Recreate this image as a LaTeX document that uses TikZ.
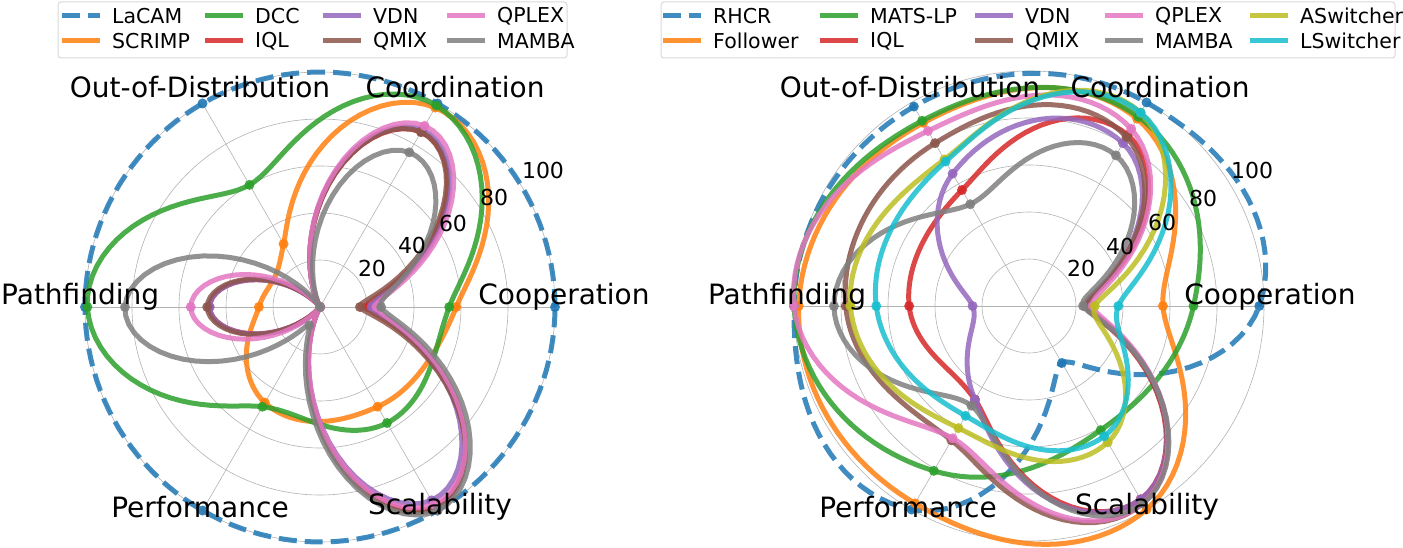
\documentclass[tikz,border=0pt]{standalone}
\usepackage{fontspec}
\setmainfont{DejaVu Sans}
\definecolor{tblue}{HTML}{1F77B4}
\definecolor{torange}{HTML}{FF7F0E}
\definecolor{tgreen}{HTML}{2CA02C}
\definecolor{tred}{HTML}{D62728}
\definecolor{tpurple}{HTML}{9467BD}
\definecolor{tbrown}{HTML}{8C564B}
\definecolor{tpink}{HTML}{E377C2}
\definecolor{tgray}{HTML}{7F7F7F}
\definecolor{tolive}{HTML}{BCBD22}
\definecolor{tcyan}{HTML}{17BECF}
\def\sc{2.35}
\newcommand\seg[5]{-- plot[domain=0:1,samples=24,variable=\t] ({#1+60*\t}:{\sc*max(0,0.5*(2*(#3)+(-(#2)+(#4))*\t+(2*(#2)-5*(#3)+4*(#4)-(#5))*\t*\t+(-(#2)+3*(#3)-3*(#4)+(#5))*\t*\t*\t))})}
\newcommand\radar[8]{%
 \draw[curve,draw=#1,#2] ({0}:{\sc*#3}) \seg{0}{#8}{#3}{#4}{#5} \seg{60}{#3}{#4}{#5}{#6} \seg{120}{#4}{#5}{#6}{#7} \seg{180}{#5}{#6}{#7}{#8} \seg{240}{#6}{#7}{#8}{#3} \seg{300}{#7}{#8}{#3}{#4} -- cycle;
 \foreach \a/\v in {0/#3,60/#4,120/#5,180/#6,240/#7,300/#8} \fill[#1,opacity=0.9] ({\a}:{\sc*\v}) circle (5);
}
\newcommand\grid{%
 \foreach \r in {20,40,60,80,100} \draw[gridl] (0,0) circle ({\sc*\r});
 \foreach \a in {0,60,...,300} \draw[gridl] (0,0) -- ({\a}:{\sc*100});
}
\newcommand\legent[4]{% x, y, color/style, text
 \draw[curve,#3] (#1,#2) -- ++(38,0); \node[legtxt] at (#1+50,#2) {#4};
}
\tikzset{
 curve/.style={line width=5pt,line join=round,draw opacity=0.85},
 dsh/.style={dash pattern=on 18pt off 8pt},
 gridl/.style={draw=black!30,line width=0.6pt},
 axlab/.style={font=\fontsize{28}{31}\selectfont,inner sep=0pt},
 tick/.style={font=\fontsize{22}{24}\selectfont,inner sep=0pt},
 legtxt/.style={font=\fontsize{20.5}{22}\selectfont,anchor=west,inner sep=0pt},
 legbox/.style={draw=black!15,line width=1pt,rounded corners=3pt,fill=white}
}
\begin{document}
\begin{tikzpicture}[x=1pt,y=1pt]
\useasboundingbox (0,0) rectangle (1403,547);
% ---------- left chart
\begin{scope}[shift={(320,240)}]
\grid
\radar{tblue}{dsh}{100}{100}{100}{100}{100}{100}
\radar{torange}{}{58}{98}{31}{26}{47}{49}
\radar{tgreen}{}{55}{99}{60}{99}{49}{57}
\radar{tred}{}{20}{86}{0}{47}{0}{98}
\radar{tpurple}{}{22}{87}{0}{47}{0}{95}
\radar{tbrown}{}{17}{86}{0}{48}{0}{99}
\radar{tpink}{}{24}{89}{0}{55}{0}{97}
\radar{tgray}{}{26}{76}{0}{83}{9}{100}
\end{scope}
\node[tick] (l20) at (372,279) {20};
\node[tick] (l40) at (412,302) {40};
\node[tick] (l60) at (453,324) {60};
\node[tick] (l80) at (494,350) {80};
\node[tick] (l100) at (543,377) {100};
\node[axlab] (lood) at (200,460) {Out-of-Distribution};
\node[axlab] (lcoord) at (455,460) {Coordination};
\node[axlab] (lcoop) at (564,250) {Cooperation};
\node[axlab,anchor=west] (lpath) at (1,250) {Pathfinding};
\node[axlab] (lperf) at (200,40) {Performance};
\node[axlab] (lscal) at (440,40) {Scalability};
% ---------- right chart
\begin{scope}[shift={(1029,241)}]
\grid
\radar{tblue}{dsh}{98}{100}{98}{100}{100}{28}
\radar{torange}{}{57}{92}{90}{98}{97}{100}
\radar{tgreen}{}{70}{93}{91}{100}{81}{61}
\radar{tred}{}{24}{84}{57}{51}{46}{95}
\radar{tpurple}{}{25}{80}{65}{24}{46}{95}
\radar{tbrown}{}{25}{83}{80}{78}{66}{97}
\radar{tpink}{}{27}{87}{86}{100}{65}{97}
\radar{tgray}{}{23}{74}{50}{83}{49}{97}
\radar{tolive}{}{28}{95}{72}{76}{60}{67}
\radar{tcyan}{}{38}{95}{71}{65}{54}{64}
\end{scope}
\node[tick] (r20) at (1081,279) {20};
\node[tick] (r40) at (1120,301) {40};
\node[tick] (r60) at (1162,325) {60};
\node[tick] (r80) at (1203,349) {80};
\node[tick] (r100) at (1252,377) {100};
\node[axlab] (rood) at (910,460) {Out-of-Distribution};
\node[axlab] (rcoord) at (1160,460) {Coordination};
\node[axlab] (rcoop) at (1270,250) {Cooperation};
\node[axlab] (rpath) at (787,250) {Pathfinding};
\node[axlab] (rperf) at (908,40) {Performance};
\node[axlab] (rscal) at (1147,40) {Scalability};
% ---------- legends
\draw[legbox] (58,489) rectangle (567,545);
\legent{62}{531}{tblue,dsh}{LaCAM}
\legent{62}{506}{torange}{SCRIMP}
\legent{205}{531}{tgreen}{DCC}
\legent{205}{506}{tred}{IQL}
\legent{323}{531}{tpurple}{VDN}
\legent{323}{506}{tbrown}{QMIX}
\legent{447}{531}{tpink}{QPLEX}
\legent{447}{506}{tgray}{MAMBA}
\draw[legbox] (661,489) rectangle (1395,545);
\legent{663}{531}{tblue,dsh}{RHCR}
\legent{663}{506}{torange}{Follower}
\legent{820}{531}{tgreen}{MATS-LP}
\legent{820}{506}{tred}{IQL}
\legent{975}{531}{tpurple}{VDN}
\legent{975}{506}{tbrown}{QMIX}
\legent{1105}{531}{tpink}{QPLEX}
\legent{1105}{506}{tgray}{MAMBA}
\legent{1250}{531}{tolive}{ASwitcher}
\legent{1250}{506}{tcyan}{LSwitcher}
\end{tikzpicture}
\end{document}
